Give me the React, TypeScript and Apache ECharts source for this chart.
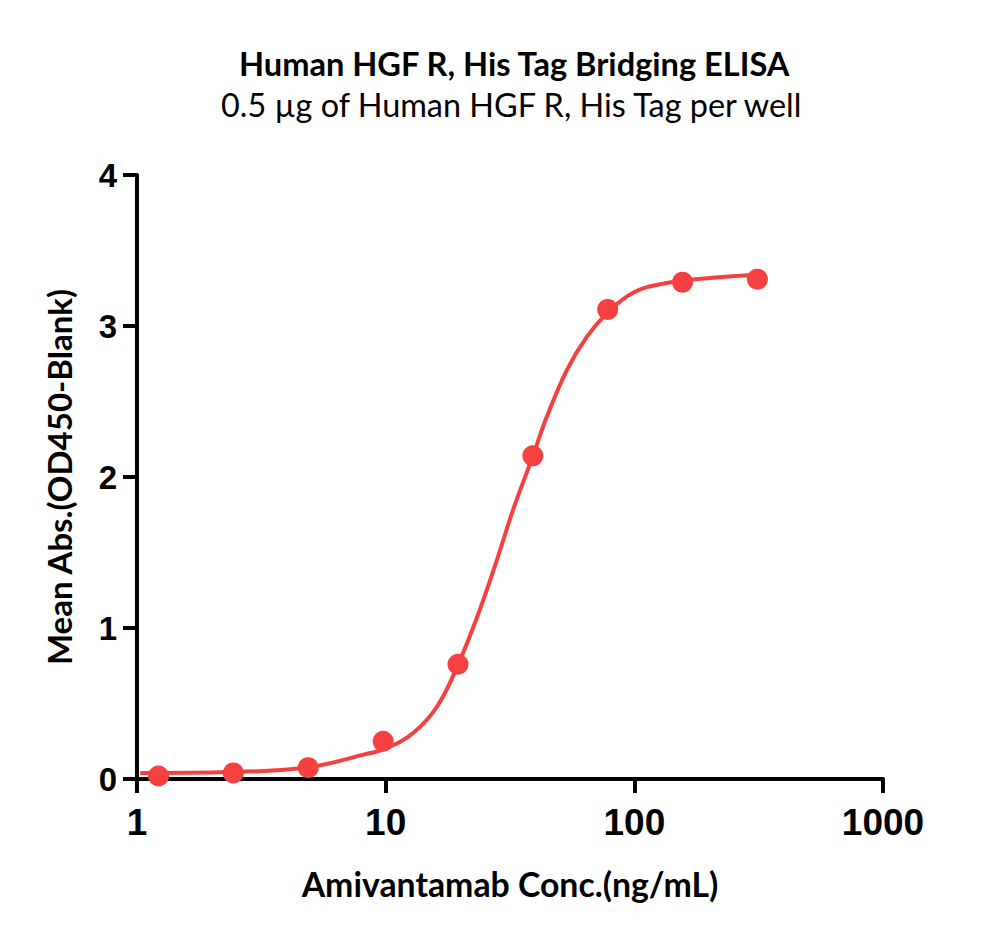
import React, { useEffect, useRef } from "react";
import * as echarts from "echarts";

const titleText = "Human HGF R, His Tag Bridging ELISA";
const subtitleText = "0.5 µg of Human HGF R, His Tag per well";
const xAxisName = "Amivantamab Conc.(ng/mL)";
const yAxisName = "Mean Abs.(OD450-Blank)";

const concentrations = [1.22, 2.44, 4.88, 9.77, 19.53, 39.06, 78.13, 156.25, 312.5];
const absorbances = [0.02, 0.04, 0.075, 0.25, 0.76, 2.14, 3.11, 3.29, 3.31];

// fitted curve points
const curveX = [1.03, 2.37, 4.96, 8.1, 10.1, 12.9, 16.1, 19.7, 23.9, 28.0, 32.5, 39.1, 44.5, 53.6, 64.5, 78.3, 98.8, 130, 207, 311];
const curveY = [0.04, 0.046, 0.08, 0.16, 0.205, 0.305, 0.48, 0.77, 1.12, 1.45, 1.78, 2.14, 2.40, 2.71, 2.93, 3.09, 3.22, 3.28, 3.32, 3.34];

const RED = "#F54040";

export default function App() {
  const ref = useRef<HTMLDivElement>(null);
  useEffect(() => {
    const chart = echarts.init(ref.current!, null, { renderer: "svg" });
    chart.setOption({
      animation: false,
      backgroundColor: "#ffffff",
      title: [
        {
          text: titleText,
          left: 234,
          top: 42,
          textStyle: { fontFamily: "Lato", fontWeight: "bold", fontSize: 32.6, color: "#000" },
        },
        {
          text: subtitleText,
          left: 216,
          top: 83,
          textStyle: { fontFamily: "Lato", fontWeight: "normal", fontSize: 32.4, color: "#000" },
        },
      ],
      grid: { left: 137, right: 117, top: 175, bottom: 164, containLabel: false },
      xAxis: {
        type: "log",
        logBase: 10,
        min: 1,
        max: 1000,
        name: xAxisName,
        nameLocation: "middle",
        nameGap: 88,
        nameTextStyle: { fontFamily: "Lato", fontWeight: "bold", fontSize: 33.8, color: "#000" },
        axisLine: { show: true, lineStyle: { color: "#000", width: 4 } },
        axisTick: { show: true, length: 14, lineStyle: { color: "#000", width: 4 } },
        minorTick: { show: false },
        splitLine: { show: false },
        axisLabel: {
          margin: 25,
          fontFamily: "Liberation Sans",
          fontWeight: "bold",
          fontSize: 37,
          color: "#000",
          formatter: (v: number) => String(Math.round(v)),
        },
      },
      yAxis: {
        type: "value",
        min: 0,
        max: 4,
        interval: 1,
        name: yAxisName,
        nameLocation: "middle",
        nameGap: 62,
        nameRotate: 90,
        nameTextStyle: { fontFamily: "Lato", fontWeight: "bold", fontSize: 33, color: "#000" },
        axisLine: { show: true, lineStyle: { color: "#000", width: 4 } },
        axisTick: { show: true, length: 14, lineStyle: { color: "#000", width: 4 } },
        splitLine: { show: false },
        axisLabel: { margin: 20, fontFamily: "Liberation Sans", fontWeight: "bold", fontSize: 33, color: "#000" },
      },
      series: [
        {
          type: "line",
          data: curveX.map((x, i) => [x, curveY[i]]),
          smooth: 0.4,
          showSymbol: false,
          symbol: "none",
          lineStyle: { color: RED, width: 4 },
          z: 2,
        },
        {
          type: "scatter",
          data: concentrations.map((x, i) => [x, absorbances[i]]),
          symbol: "circle",
          symbolSize: 21,
          itemStyle: { color: RED, opacity: 1 },
          z: 3,
        },
      ],
    });
    return () => chart.dispose();
  }, []);
  return <div ref={ref} style={{ width: 1000, height: 943, margin: -8 }} />;
}
